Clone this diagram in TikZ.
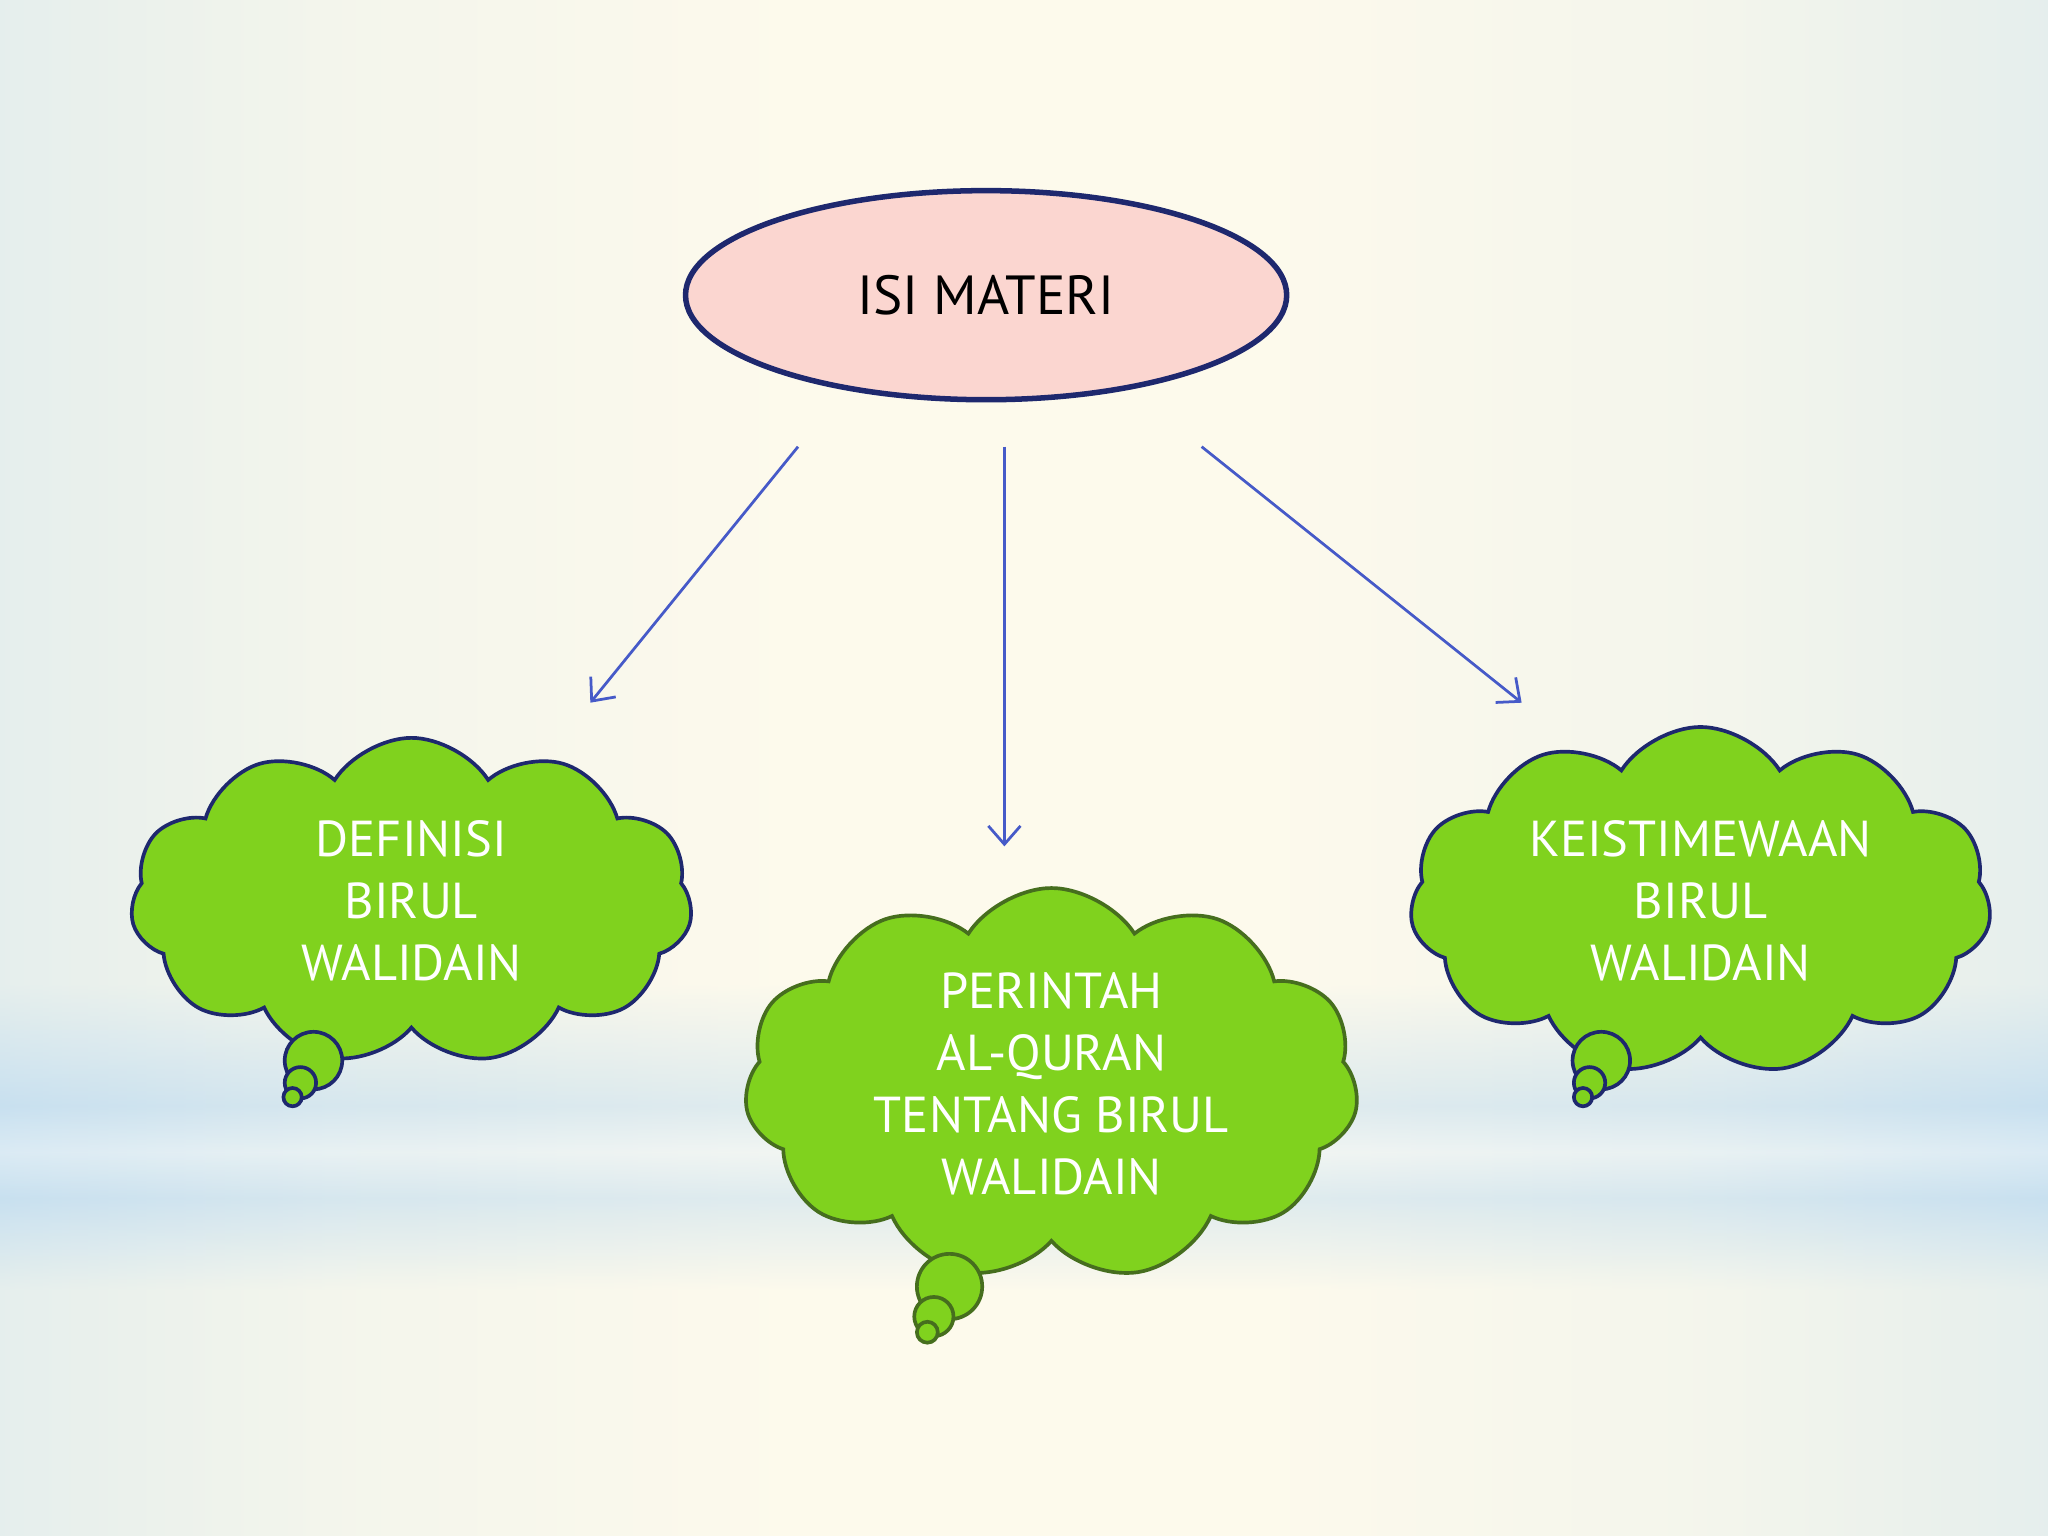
\documentclass[tikz,border=0pt]{standalone}
\usepackage{fontspec}
\setmainfont{PT Sans}
\usetikzlibrary{shapes.symbols,shapes.geometric,arrows.meta}
\definecolor{cream}{RGB}{253,250,236}
\definecolor{sky}{RGB}{195,222,240}
\definecolor{leaf}{RGB}{128,210,30}
\definecolor{navy}{RGB}{30,40,110}
\definecolor{olive}{RGB}{70,110,30}
\definecolor{arr}{RGB}{70,90,200}
\definecolor{pinkf}{RGB}{251,214,208}
\pgfdeclarehorizontalshading{bgh}{100bp}{color(0bp)=(sky); color(25bp)=(sky); color(33bp)=(cream!60!sky); color(44bp)=(cream); color(56bp)=(cream); color(67bp)=(cream!60!sky); color(75bp)=(sky); color(100bp)=(sky)}
\pgfdeclareverticalshading{bgv}{100bp}{color(0bp)=(cream); color(25bp)=(cream); color(33bp)=(cream); color(36bp)=(sky); color(37.5bp)=(white!60!sky); color(39bp)=(sky); color(43bp)=(cream); color(75bp)=(cream); color(100bp)=(cream)}
\tikzset{
  cl/.style={cloud, cloud puffs=11, cloud puff arc=115, aspect=1.7, fill=leaf, draw=navy, line width=0.8pt,
     text=white, font=\fontsize{11}{13.5}\selectfont, align=center, inner sep=0pt},
  bub/.style={circle, fill=leaf, draw=navy, line width=0.8pt, inner sep=0pt},
  ar/.style={draw=arr, line width=0.6pt, -{Straight Barb[length=4pt,width=7pt]}}
}
\begin{document}
\begin{tikzpicture}[x=0.01cm,y=-0.01cm]
\useasboundingbox (0,0) rectangle (1568,1176);
\fill[cream] (0,0) rectangle (1568,1176);
\shade[shading=bgh, opacity=0.8] (0,0) rectangle (1568,1176);
\shade[shading=bgv, opacity=0.5] (0,0) rectangle (1568,1176);
\node[ellipse, fill=pinkf, draw=navy, line width=1.2pt, minimum width=4.6cm, minimum height=1.6cm,
  font=\fontsize{12}{14}\selectfont] (top) at (755,226) {ISI MATERI};
\node[cl, minimum width=4.3cm, minimum height=2.5cm] (c1) at (315,690) {DEFINISI\\BIRUL\\WALIDAIN};
\node[cl, minimum width=4.7cm, minimum height=3.0cm, draw=olive] (c2) at (805,830) {PERINTAH\\AL-QURAN\\TENTANG BIRUL\\WALIDAIN};
\node[cl, minimum width=4.45cm, minimum height=2.5cm] (c3) at (1302,690) {KEISTIMEWAAN\\BIRUL\\WALIDAIN};
\node[bub, minimum size=0.44cm] (b1) at (240,812) {};
\node[bub, minimum size=0.24cm] (b2) at (230,829) {};
\node[bub, minimum size=0.14cm] (b3) at (224,840) {};
\node[bub, minimum size=0.5cm, draw=olive] (m1) at (727,985) {};
\node[bub, minimum size=0.3cm, draw=olive] (m2) at (715,1008) {};
\node[bub, minimum size=0.16cm, draw=olive] (m3) at (710,1020) {};
\node[bub, minimum size=0.44cm] (r1) at (1226,812) {};
\node[bub, minimum size=0.24cm] (r2) at (1217,829) {};
\node[bub, minimum size=0.14cm] (r3) at (1212,840) {};
\coordinate (s1) at (611,342); \coordinate (e1) at (452,538);
\coordinate (s2) at (769,342); \coordinate (e2) at (769,648);
\coordinate (s3) at (920,342); \coordinate (e3) at (1165,538);
\draw[ar] (s1) -- (e1);
\draw[ar] (s2) -- (e2);
\draw[ar] (s3) -- (e3);
\end{tikzpicture}
\end{document}
